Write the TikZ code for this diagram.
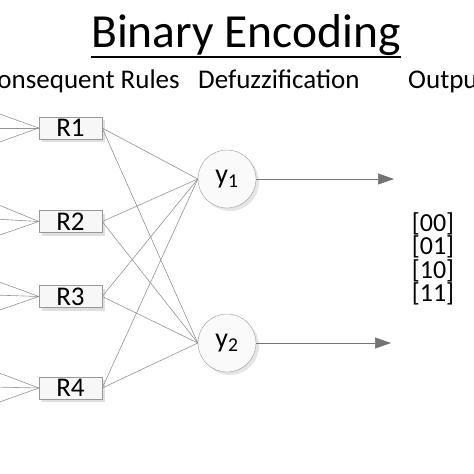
\documentclass[tikz,border=0pt]{standalone}
\usepackage{fontspec}
\setmainfont{Carlito}
\usetikzlibrary{arrows.meta, shadows, calc}

\tikzset{
  rulebox/.style={draw=gray!80, fill=gray!6, minimum width=63pt, minimum height=22pt,
    inner sep=0pt, font=\fontsize{27}{27}\selectfont,
    drop shadow={shadow xshift=3pt, shadow yshift=-3pt, fill=gray!25, opacity=1}},
  outnode/.style={circle, draw=gray!80, fill=gray!4, minimum size=58pt, inner sep=0pt,
    font=\fontsize{28}{28}\selectfont,
    drop shadow={shadow xshift=3pt, shadow yshift=-3pt, fill=gray!20, opacity=1}},
  link/.style={draw=gray!85, line width=0.6pt},
  outarrow/.style={draw=gray!90!black, line width=0.7pt, -{Triangle[length=16pt,width=11pt]}},
  heading/.style={inner sep=0pt, font=\fontsize{27}{27}\selectfont},
}

\begin{document}
\begin{tikzpicture}[x=1pt, y=-1pt]
    \useasboundingbox (0,0) rectangle (474,474);
    \clip (0,0) rectangle (474,474);

    % Title
    \node[inner sep=0pt, anchor=base, font=\fontsize{47.5}{47.5}\selectfont] (title) at (246,47) {Binary Encoding};
    \draw[line width=1.8pt] ([yshift=-10pt]title.base west) -- ([yshift=-10pt]title.base east);

    % Layer names
    \node[heading, anchor=base east] (rules) at (180,88) {Consequent Rules};
    \node[heading, anchor=base west] (defuzz) at (198,88) {Defuzzification};
    \node[heading, anchor=base west] (output) at (408,88) {Output};

    % Rules
    \foreach \i/\y in {1/128, 2/221.5, 3/296.5, 4/388}
    \node[rulebox] (R\i) at (70.5,\y) {R\i};

    % Inputs (from the left edge)
    \foreach \i/\a/\b/\c in {1/114/128/142, 2/205/219/235, 3/282/295/310, 4/373/387/402} {
      \coordinate (in\i a) at (-6,\a-2);
      \coordinate (in\i b) at (-6,\b);
      \coordinate (in\i c) at (-6,\c+2);
      \draw[link] (in\i a) -- (R\i.west);
      \draw[link] (in\i b) -- (R\i.west);
      \draw[link] (in\i c) -- (R\i.west);
    }

    % Defuzzification
    \node[outnode] (y1) at (227,179) {y\textsubscript{1}};
    \node[outnode] (y2) at (227,343) {y\textsubscript{2}};

    \foreach \i in {1,2,3,4}
    \foreach \j in {1,2}
    \draw[link] (R\i.east) -- (y\j.west);

    % Output
    \coordinate (o1) at (394,179);
    \coordinate (o2) at (391,343);
    \draw[outarrow] (y1.east) -- (o1);
    \draw[outarrow] (y2.east) -- (o2);

    \node[align=center, inner sep=0pt, font=\fontsize{26}{18.5}\selectfont] (codes) at (433,259)
      {[00]\\{}[01]\\{}[10]\\{}[11]};
  \end{tikzpicture}
\end{document}
